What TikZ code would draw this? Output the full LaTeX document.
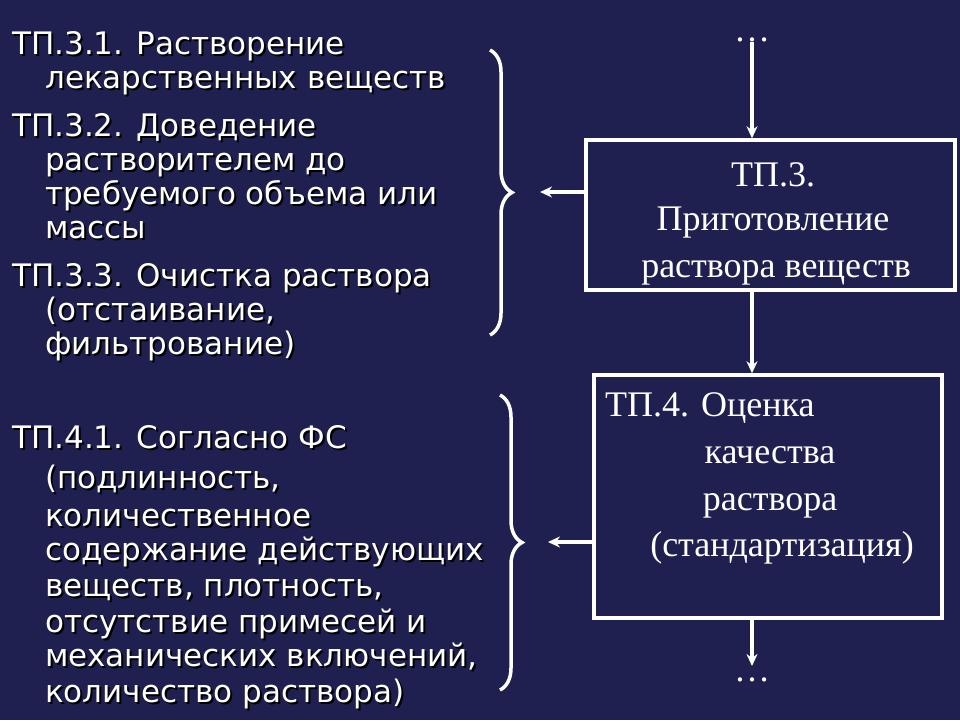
\documentclass[tikz,border=0pt]{standalone}
\usepackage{fontspec}
\setmainfont{Liberation Serif}
\newfontfamily\lsans{DejaVu Sans}
\usetikzlibrary{decorations.pathreplacing,arrows.meta}
\definecolor{bg}{HTML}{1F2050}
\tikzset{
  lt/.style={anchor=base west,inner sep=0pt,text=white,font=\lsans\fontsize{31}{36}\selectfont},
  sh/.style={anchor=base west,inner sep=0pt,text=black,font=\lsans\fontsize{31}{36}\selectfont},
  bt/.style={inner sep=0pt,text=white,font=\fontsize{36}{40}\selectfont},
  boxs/.style={draw=white,line width=3.5pt},
  arr/.style={draw=white,line width=3.5pt,-{Stealth[length=12pt,width=11pt]}},
  br/.style={draw=white,line width=3.5pt,decorate,decoration={brace,amplitude=22pt}}
}
\newcounter{ln}
\newcommand{\ltx}[3]{\stepcounter{ln}\node[sh] (s\theln) at (#1+2,#2+2) {#3};\node[lt] (t\theln) at (#1,#2) {#3};}
\begin{document}
\begin{tikzpicture}[x=1pt,y=-1pt]
\fill[bg] (0,0) rectangle (960,720);
\useasboundingbox (0,0) rectangle (960,720);
\ltx{12}{54}{ТП.3.1. Растворение}
\ltx{45}{88}{лекарственных веществ}
\ltx{12}{136}{ТП.3.2. Доведение}
\ltx{45}{170}{растворителем до}
\ltx{45}{204}{требуемого объема или}
\ltx{45}{238}{массы}
\ltx{12}{286}{ТП.3.3. Очистка раствора}
\ltx{45}{320}{(отстаивание,}
\ltx{45}{354}{фильтрование)}
\ltx{12}{448}{ТП.4.1. Согласно ФС}
\ltx{45}{488}{(подлинность,}
\ltx{45}{526}{количественное}
\ltx{45}{560}{содержание действующих}
\ltx{45}{596}{веществ, плотность,}
\ltx{45}{632}{отсутствие примесей и}
\ltx{45}{666}{механических включений,}
\ltx{45}{702}{количество  раствора)}
\draw[br] (490,50) -- (490,335);
\draw[br] (500,395) -- (500,690);
\node[coordinate] (b1t) at (540,192) {};
\node[coordinate] (b2t) at (548,542) {};
\node[boxs,minimum width=369pt,minimum height=150pt] (box1) at (770.5,215) {};
\node[boxs,minimum width=348pt,minimum height=243pt] (box2) at (768,496.5) {};
\node[bt] (d1) at (752,40) {\dots};
\node[bt] (d2) at (752,680) {\dots};
\node[bt,anchor=base] (a1) at (773,186) {ТП.3.};
\node[bt,anchor=base] (a2) at (773,230) {Приготовление};
\node[bt,anchor=base] (a3) at (776,277) {раствора веществ};
\node[bt,anchor=base west] (c1) at (605,416) {ТП.4. Оценка};
\node[bt,anchor=base] (c2) at (770,463) {качества};
\node[bt,anchor=base] (c3) at (770,510) {раствора};
\node[bt,anchor=base] (c4) at (782,556) {(стандартизация)};
\draw[arr] (d1.south) -- (box1.north -| d1);
\draw[arr] (box1.south -| d1) -- (box2.north -| d1);
\draw[arr] (box2.south -| d1) -- (752,666);
\draw[arr] (box1.west |- b1t) -- (b1t);
\draw[arr] (box2.west |- b2t) -- (b2t);
\end{tikzpicture}
\end{document}
